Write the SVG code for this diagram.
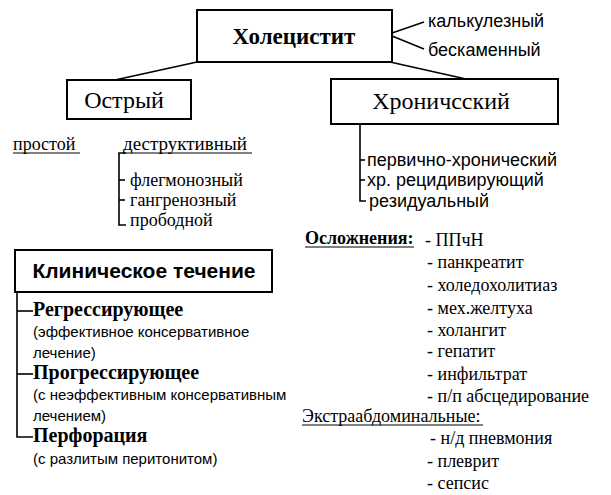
<svg xmlns="http://www.w3.org/2000/svg" width="611" height="495" viewBox="0 0 611 495">
<style>
.box{fill:#fff;stroke:#000;stroke-width:2}
.ln{stroke:#000;stroke-width:1.6;fill:none}
.ul{stroke:#000;stroke-width:1.2}
.t{font-family:"Liberation Serif","Times New Roman",serif;fill:#000}
.s{font-family:"Liberation Sans",Arial,sans-serif;fill:#000}
.b{font-weight:bold}
</style>
<rect width="611" height="495" fill="#fff"/>
<g id="connectors">
<line class="ln" x1="392" y1="33" x2="424" y2="22"/>
<line class="ln" x1="392" y1="36" x2="424" y2="49"/>
<line class="ln" x1="197" y1="62" x2="115" y2="80"/>
<line class="ln" x1="390" y1="62" x2="466" y2="79"/>
<polyline class="ln" points="126,153 119,153 119,225 126,225"/>
<line class="ln" x1="119" y1="180" x2="125" y2="180"/>
<line class="ln" x1="119" y1="200" x2="125" y2="200"/>
<polyline class="ln" points="360,124 360,201 366,201"/>
<line class="ln" x1="360" y1="160" x2="365" y2="160"/>
<line class="ln" x1="360" y1="180" x2="365" y2="180"/>
<polyline class="ln" points="17,292 17,437 33,437"/>
<line class="ln" x1="17" y1="311" x2="33" y2="311"/>
<line class="ln" x1="17" y1="374" x2="33" y2="374"/>
</g>
<g id="holecistit">
<rect class="box" x="197" y="10" width="195" height="52"/>
<text class="t b" x="294" y="44" font-size="23" text-anchor="middle">Холецистит</text>
</g>
<g id="types">
<text class="s" x="428" y="27" font-size="18">калькулезный</text>
<text class="s" x="428" y="56" font-size="18">бескаменный</text>
</g>
<g id="ostryi">
<rect class="box" x="67" y="80" width="124" height="39"/>
<text class="t" x="124" y="108" font-size="24" text-anchor="middle">Острый</text>
</g>
<g id="hronicheskii">
<rect class="box" x="331" y="79" width="227" height="45"/>
<text class="t" x="441" y="109" font-size="24" text-anchor="middle">Хроничсский</text>
</g>
<g id="acute-forms">
<text class="t" x="13" y="150" font-size="18">простой</text>
<line class="ul" x1="13" y1="153" x2="80" y2="153"/>
<text class="t" x="123" y="150" font-size="19">деструктивный</text>
<line class="ul" x1="123" y1="153" x2="252" y2="153"/>
<text class="t" x="130" y="186" font-size="18">флегмонозный</text>
<text class="t" x="130" y="206" font-size="18">гангренозный</text>
<text class="t" x="130" y="226" font-size="18">прободной</text>
</g>
<g id="chronic-forms">
<text class="s" x="367" y="166" font-size="18">первично-хронический</text>
<text class="s" x="367" y="186" font-size="18">хр. рецидивирующий</text>
<text class="s" x="369" y="207" font-size="18">резидуальный</text>
</g>
<g id="clinical">
<rect class="box" x="15" y="250" width="257" height="42"/>
<text class="s b" x="144" y="278" font-size="21" text-anchor="middle">Клиническое течение</text>
<text class="t b" x="33" y="316" font-size="20">Регрессирующее</text>
<text class="s" x="33" y="337" font-size="15">(эффективное консервативное</text>
<text class="s" x="33" y="358" font-size="15">лечение)</text>
<text class="t b" x="33" y="379" font-size="20">Прогрессирующее</text>
<text class="s" x="33" y="400" font-size="15">(с неэффективным консервативным</text>
<text class="s" x="33" y="421" font-size="15">лечением)</text>
<text class="t b" x="33" y="442" font-size="20">Перфорация</text>
<text class="s" x="33" y="464" font-size="15">(с разлитым перитонитом)</text>
</g>
<g id="complications">
<text class="t b" x="305" y="244" font-size="18">Осложнения:</text>
<line class="ul" x1="305" y1="247" x2="414" y2="247"/>
<text class="t" x="425" y="246" font-size="18">- ППчН</text>
<text class="t" x="427" y="268" font-size="18">- панкреатит</text>
<text class="t" x="427" y="291" font-size="18">- холедохолитиаз</text>
<text class="t" x="427" y="314" font-size="18">- мех.желтуха</text>
<text class="t" x="427" y="336" font-size="18">- холангит</text>
<text class="t" x="427" y="357" font-size="18">- гепатит</text>
<text class="t" x="427" y="380" font-size="18">- инфильтрат</text>
<text class="t" x="427" y="402" font-size="18">- п/п абсцедирование</text>
<text class="t" x="302" y="422" font-size="18">Экстраабдоминальные:</text>
<line class="ul" x1="302" y1="425" x2="483" y2="425"/>
<text class="t" x="430" y="444" font-size="18">- н/д пневмония</text>
<text class="t" x="427" y="467" font-size="18">- плеврит</text>
<text class="t" x="427" y="489" font-size="18">- сепсис</text>
</g>
</svg>
